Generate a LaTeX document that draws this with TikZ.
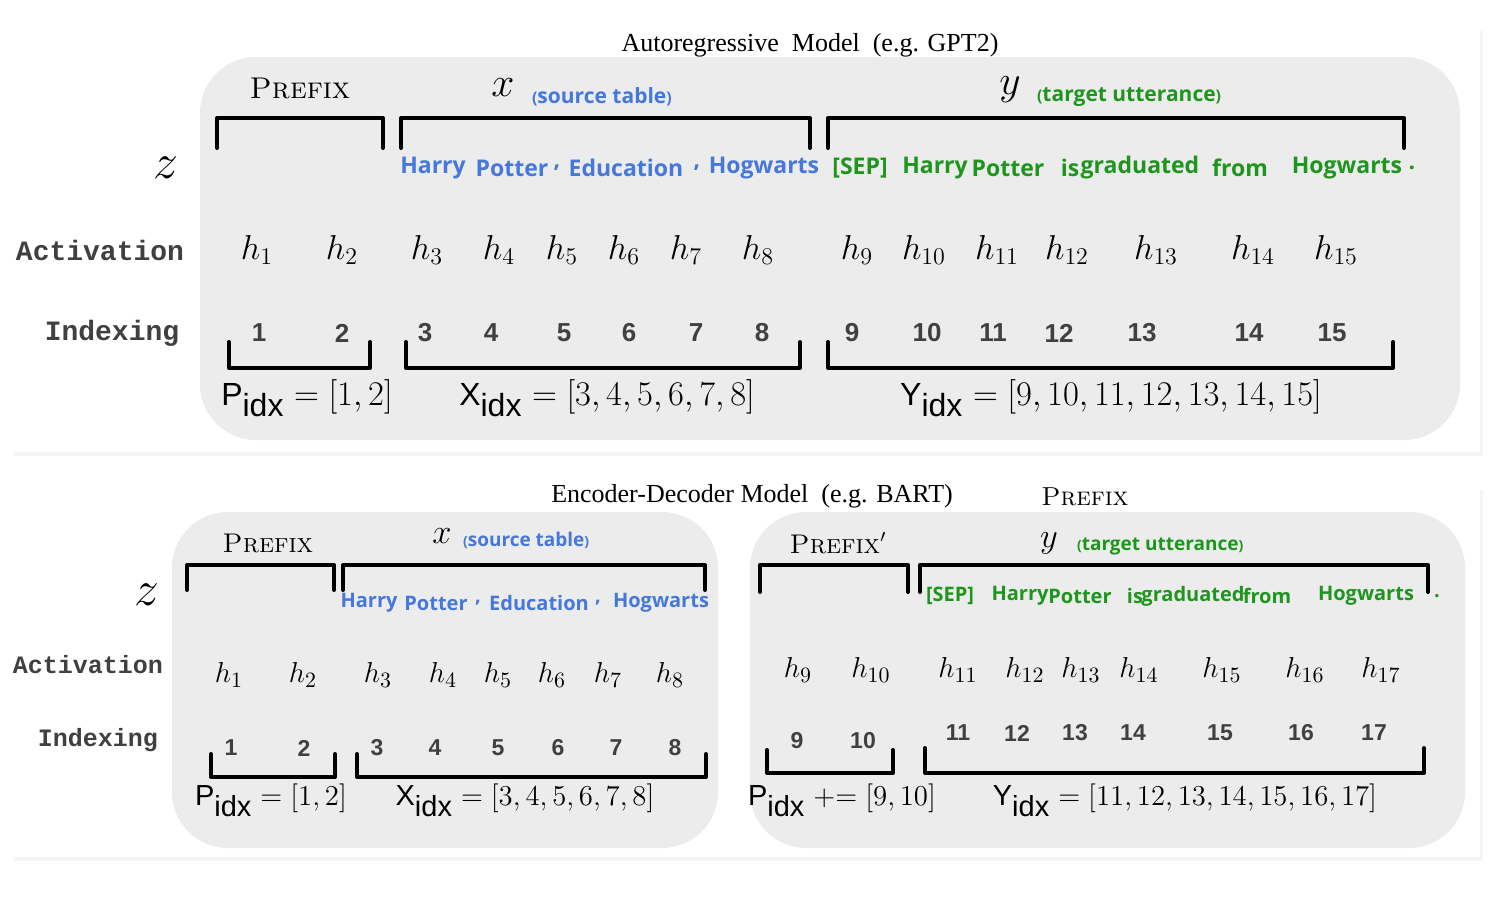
\documentclass[tikz,border=0pt]{standalone}
\usepackage{fontspec}
\newfontfamily\tok{Open Sans}
\newfontfamily\ttl{Liberation Serif}
\newfontfamily\mono{Liberation Mono}
\newfontfamily\lsans{Liberation Sans}
\definecolor{tb}{RGB}{70,120,220}
\definecolor{tg}{RGB}{30,150,30}
\definecolor{pg}{RGB}{236,236,236}
\begin{document}
\begin{tikzpicture}[x=0.5pt,y=-0.5pt,
  panel/.style={fill=pg,rounded corners=28pt},
  brk/.style={line width=2pt,line cap=round,line join=round},
  ttext/.style={font=\ttl\fontsize{13}{13}\selectfont},
  pre/.style={font=\fontsize{15}{15}\selectfont\scshape},
  tkb/.style={text=tb,font=\tok\bfseries\fontsize{11.5}{12}\selectfont},
  tkg/.style={text=tg,font=\tok\bfseries\fontsize{11.5}{12}\selectfont},
  tkbs/.style={text=tb,font=\tok\bfseries\fontsize{10}{10}\selectfont},
  tkgs/.style={text=tg,font=\tok\bfseries\fontsize{10}{10}\selectfont},
  lab/.style={font=\mono\bfseries\fontsize{14}{14}\selectfont,text=black!75},
  labs/.style={font=\mono\bfseries\fontsize{12.5}{12.5}\selectfont,text=black!75},
  hh/.style={font=\fontsize{17}{17}\selectfont},
  hhs/.style={font=\fontsize{15}{15}\selectfont},
  num/.style={font=\lsans\bfseries\fontsize{13}{13}\selectfont,text=black!75},
  nums/.style={font=\lsans\bfseries\fontsize{11.5}{11.5}\selectfont,text=black!75},
  idx/.style={font=\fontsize{16}{16}\selectfont},
  idxs/.style={font=\fontsize{14.5}{14.5}\selectfont},
  var/.style={font=\fontsize{22}{22}\selectfont},
  capt/.style={anchor=west,font=\tok\bfseries\fontsize{10.5}{10.5}\selectfont},
  capts/.style={anchor=west,font=\tok\bfseries\fontsize{9.5}{9.5}\selectfont}]
\useasboundingbox (0,0) rectangle (1511,900);
\fill[white] (0,0) rectangle (1511,900);
% cards
\fill[black!4] (14,31) rectangle (1483,456);
\fill[black!4] (14,490) rectangle (1483,861);
\fill[white] (12,28) rectangle (1480,452);
\fill[white] (12,487) rectangle (1480,857);
\fill[panel] (200,57) rectangle (1460,440);
\fill[panel] (172,512) rectangle (718,848);
\fill[panel] (750,512) rectangle (1465,848);
% ===== top
\node[ttext] (t1) at (810,45) {Autoregressive\ \ Model\ \ (e.g. GPT2)};
\node[pre] (p1) at (300,88) {Prefix};
\node[var] (x1) at (503,88) {$x$};
\node[capt,text=tb] (x1c) at (525,97) {\fontsize{8}{8}\selectfont(\fontsize{10.5}{10.5}\selectfont source table\fontsize{8}{8}\selectfont)};
\node[var] (y1) at (1010,90) {$y$};
\node[capt,text=tg] (y1c) at (1030,97) {\fontsize{8}{8}\selectfont(\fontsize{10.5}{10.5}\selectfont target utterance\fontsize{8}{8}\selectfont)};
\node[font=\fontsize{26}{26}\selectfont] (z1) at (166,168) {$z$};
\draw[brk] (217,148) -- (217,118) -- (383,118) -- (383,148);
\draw[brk] (401,148) -- (401,118) -- (810,118) -- (810,148);
\draw[brk] (828,148) -- (828,118) -- (1404,118) -- (1404,148);
\foreach \w/\p in {Harry/433,Potter/512,{,}/557,Education/626,{,}/697,Hogwarts/764}
  \node[tkb] at (\p,168) {\w};
\foreach \w/\p in {[SEP]/860,Harry/935,Potter/1008,is/1070,graduated/1140,from/1240,Hogwarts/1347,./1412}
  \node[tkg] at (\p,168) {\w};
\node[lab] (a1) at (100,250) {Activation};
\foreach \i/\p in {1/257,2/342,3/427,4/499,5/562,6/624,7/686,8/758,9/857,10/924,11/997,12/1067,13/1156,14/1253,15/1336}
  \node[hh] at (\p,250) {$h_{\i}$};
\node[lab] (i1) at (112,333) {Indexing};
\foreach \i/\p in {1/259,2/342,3/425,4/491,5/564,6/629,7/696,8/762,9/852,10/927,11/993,12/1059,13/1142,14/1249,15/1332}
  \node[num] at (\p,333) {\i};
\draw[brk] (229,342) -- (229,368) -- (370,368) -- (370,342);
\draw[brk] (406,342) -- (406,368) -- (800,368) -- (800,342);
\draw[brk] (828,342) -- (828,368) -- (1393,368) -- (1393,342);
\node[idx] at (307,398) {{\lsans P}$_{\textsf{\lsans idx}}=[1,2]$};
\node[idx] at (607,398) {{\lsans X}$_{\textsf{\lsans idx}}=[3,4,5,6,7,8]$};
\node[idx] at (1111,398) {{\lsans Y}$_{\textsf{\lsans idx}}=[9,10,11,12,13,14,15]$};
% ===== bottom
\node[ttext] (t2) at (752,496) {Encoder-Decoder Model\ \ (e.g. BART)};
\node[pre,font=\fontsize{13}{13}\selectfont\scshape] (p2t) at (1085,497) {Prefix};
\node[pre,font=\fontsize{13.5}{13.5}\selectfont\scshape] (p2) at (268,543) {Prefix};
\node[var,font=\fontsize{19}{19}\selectfont] (x2) at (442,536) {$x$};
\node[capts,text=tb] at (456,540) {\fontsize{7}{7}\selectfont(\fontsize{9.5}{9.5}\selectfont source table\fontsize{7}{7}\selectfont)};
\node[font=\fontsize{23}{23}\selectfont] (z2) at (147,595) {$z$};
\draw[brk] (187,590) -- (187,565) -- (334,565) -- (334,590);
\draw[brk] (343,590) -- (343,565) -- (705,565) -- (705,590);
\foreach \w/\p in {Harry/369,Potter/436,{,}/478,Education/539,{,}/598,Hogwarts/661}
  \node[tkbs] at (\p,603) {\w};
\node[labs] (a2) at (88,665) {Activation};
\foreach \i/\p in {1/229,2/303,3/378,4/443,5/498,6/552,7/608,8/670}
  \node[hhs] at (\p,675) {$h_{\i}$};
\node[labs] (i2) at (98,740) {Indexing};
\foreach \i/\p in {1/231,2/304,3/377,4/435,5/498,6/558,7/616,8/675}
  \node[nums] at (\p,748) {\i};
\draw[brk] (211,754) -- (211,777) -- (335,777) -- (335,754);
\draw[brk] (357,754) -- (357,777) -- (706,777) -- (706,754);
\node[idxs] at (271,800) {{\lsans P}$_{\textsf{\lsans idx}}=[1,2]$};
\node[idxs] at (525,800) {{\lsans X}$_{\textsf{\lsans idx}}=[3,4,5,6,7,8]$};
% right panel
\node[pre,font=\fontsize{13.5}{13.5}\selectfont\scshape] (p3) at (838,543) {Prefix$'$};
\node[var,font=\fontsize{19}{19}\selectfont] (y2) at (1049,543) {$y$};
\node[capts,text=tg] at (1070,546) {\fontsize{7}{7}\selectfont(\fontsize{9.5}{9.5}\selectfont target utterance\fontsize{7}{7}\selectfont)};
\draw[brk] (760,592) -- (760,565) -- (908,565) -- (908,592);
\draw[brk] (920,592) -- (920,565) -- (1428,565) -- (1428,592);
\foreach \w/\p in {[SEP]/950,Harry/1020,Potter/1080,is/1135,graduated/1193,from/1267,Hogwarts/1366,./1437}
  \node[tkgs] at (\p,596) {\w};
\foreach \i/\p in {9/798,10/871,11/958,12/1025,13/1081,14/1139,15/1222,16/1305,17/1381}
  \node[hhs] at (\p,670) {$h_{\i}$};
\node[nums] at (797,741) {9};
\node[nums] at (863,741) {10};
\foreach \i/\p in {11/958,12/1017,13/1075,14/1133,15/1220,16/1301,17/1374}
  \node[nums] at (\p,733) {\i};
\draw[brk] (767,750) -- (767,773) -- (893,773) -- (893,750);
\draw[brk] (925,748) -- (925,773) -- (1424,773) -- (1424,748);
\node[idxs] at (842,800) {{\lsans P}$_{\textsf{\lsans idx}}\mathrel{+}=[9,10]$};
\node[idxs] at (1185,800) {{\lsans Y}$_{\textsf{\lsans idx}}=[11,12,13,14,15,16,17]$};
\end{tikzpicture}
\end{document}
